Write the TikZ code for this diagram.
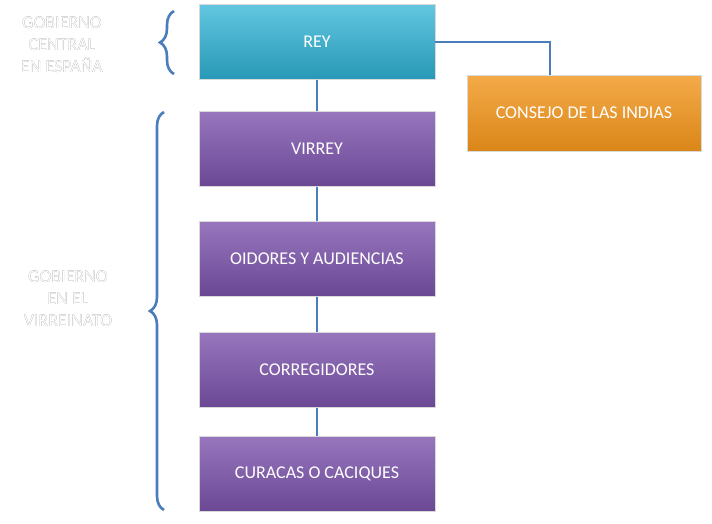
\documentclass[tikz,border=0pt]{standalone}
\usepackage{fontspec}
\setmainfont{Carlito}
\usepackage[outline]{contour}
\contourlength{0.8pt}
\usetikzlibrary{decorations.pathreplacing}
\definecolor{reyblue}{HTML}{2EB3D6}
\definecolor{virpurple}{HTML}{7D54AE}
\definecolor{consorange}{HTML}{F2951B}
\definecolor{linkblue}{HTML}{4A7EBB}
\begin{document}
\begin{tikzpicture}[x=1pt,y=-1pt,thick]
\tikzstyle{box}=[draw=white!85!black, minimum width=236pt, minimum height=75pt,
  text=white, font=\fontsize{18}{21}\selectfont, line width=0.6pt]
\tikzstyle{link}=[draw=linkblue, line width=2.2pt]
\tikzstyle{brace}=[draw=linkblue, line width=2.6pt, decorate,
  decoration={brace, amplitude=14pt}]
\tikzstyle{side}=[align=center, font=\fontsize{18}{22}\selectfont]
\useasboundingbox (0,0) rectangle (712,523);

\node[box, top color=reyblue!75!white, bottom color=reyblue!85!black] (rey) at (317,42) {REY};
\node[box, top color=virpurple!80!white, bottom color=virpurple!85!black] (virrey) at (317,149) {VIRREY};
\node[box, top color=virpurple!80!white, bottom color=virpurple!85!black] (oidores) at (317,259) {OIDORES Y AUDIENCIAS};
\node[box, top color=virpurple!80!white, bottom color=virpurple!85!black] (corr) at (317,370) {CORREGIDORES};
\node[box, top color=virpurple!80!white, bottom color=virpurple!85!black] (curacas) at (317,474) {CURACAS O CACIQUES};
\node[box, minimum width=234pt, minimum height=76pt, top color=consorange!80!white, bottom color=consorange!90!black] (consejo) at (584,113) {CONSEJO DE LAS INDIAS};

\draw[link] (rey) -- (virrey);
\draw[link] (virrey) -- (oidores);
\draw[link] (oidores) -- (corr);
\draw[link] (corr) -- (curacas);
\draw[link] (rey.east) -- ++(115,0) coordinate (turn) -- (turn |- consejo.north);

\coordinate (b1a) at (174,11);
\coordinate (b1b) at (174,74);
\coordinate (b2a) at (164,112);
\coordinate (b2b) at (164,510);
\draw[brace] (b1b) -- (b1a);
\draw[brace] (b2b) -- (b2a);

\node[side] (central) at (62,45) {\contour{gray!80!black}{\textcolor{white}{GOBIERNO}}\\\contour{gray!80!black}{\textcolor{white}{CENTRAL}}\\\contour{gray!80!black}{\textcolor{white}{EN ESPAÑA}}};
\node[side] (virreinato) at (68,299) {\contour{gray!80!black}{\textcolor{white}{GOBIERNO}}\\\contour{gray!80!black}{\textcolor{white}{EN EL}}\\\contour{gray!80!black}{\textcolor{white}{VIRREINATO}}};
\end{tikzpicture}
\end{document}
